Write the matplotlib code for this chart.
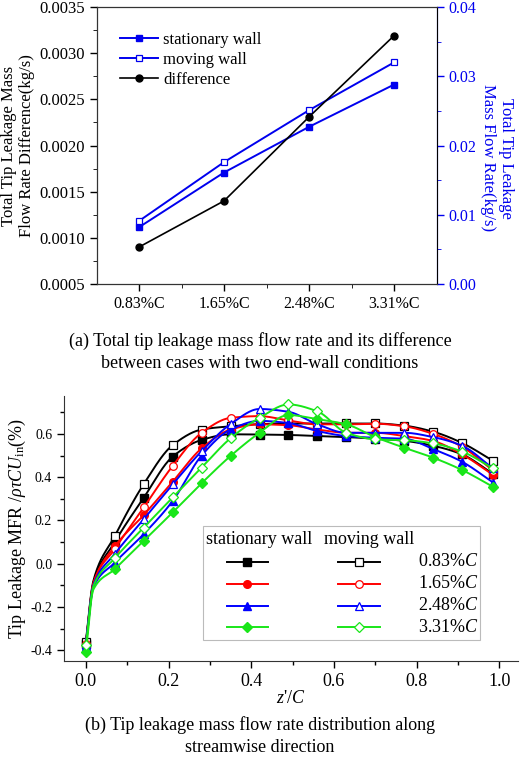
import numpy as np
import matplotlib
matplotlib.use("Agg")
import matplotlib.pyplot as plt
from matplotlib.lines import Line2D
from matplotlib.patches import Rectangle
from matplotlib.ticker import MultipleLocator, FixedLocator

plt.rcParams['font.family'] = ['Liberation Serif', 'DejaVu Serif']
plt.rcParams['mathtext.fontset'] = 'custom'
plt.rcParams['mathtext.rm'] = 'Liberation Serif'
plt.rcParams['mathtext.it'] = 'Liberation Serif:italic'
plt.rcParams['axes.unicode_minus'] = False

# ---------------- data: panel (a) ----------------
gap_labels = ['0.83%C', '1.65%C', '2.48%C', '3.31%C']
stationary_total = [0.0082, 0.0161, 0.0227, 0.0288]
moving_total = [0.0091, 0.0176, 0.0251, 0.0320]
difference = [0.00090, 0.00140, 0.00231, 0.00319]

# ---------------- data: panel (b) ----------------
z = [0.0, 0.018, 0.07, 0.14, 0.21, 0.28, 0.35, 0.42, 0.49, 0.56, 0.63, 0.70, 0.77, 0.84, 0.91, 0.985]
stat_083 = [-0.37, -0.09, 0.100, 0.305, 0.495, 0.572, 0.598, 0.597, 0.595, 0.590, 0.585, 0.578, 0.568, 0.545, 0.505, 0.415]
mov_083 = [-0.36, -0.08, 0.128, 0.368, 0.548, 0.620, 0.635, 0.645, 0.648, 0.648, 0.648, 0.648, 0.638, 0.610, 0.558, 0.475]
stat_165 = [-0.38, -0.095, 0.080, 0.225, 0.379, 0.533, 0.620, 0.644, 0.640, 0.620, 0.605, 0.605, 0.590, 0.567, 0.505, 0.410]
mov_165 = [-0.37, -0.09, 0.068, 0.260, 0.452, 0.605, 0.674, 0.682, 0.662, 0.644, 0.644, 0.647, 0.635, 0.600, 0.540, 0.430]
stat_248 = [-0.38, -0.11, 0.005, 0.137, 0.290, 0.500, 0.620, 0.660, 0.650, 0.613, 0.590, 0.582, 0.578, 0.530, 0.471, 0.375]
mov_248 = [-0.37, -0.10, 0.045, 0.206, 0.367, 0.520, 0.645, 0.715, 0.702, 0.644, 0.605, 0.605, 0.605, 0.585, 0.545, 0.440]
stat_331 = [-0.41, -0.12, -0.025, 0.106, 0.237, 0.372, 0.498, 0.605, 0.687, 0.668, 0.644, 0.585, 0.536, 0.490, 0.433, 0.355]
mov_331 = [-0.378, -0.105, 0.025, 0.167, 0.306, 0.444, 0.580, 0.674, 0.736, 0.704, 0.605, 0.575, 0.571, 0.556, 0.518, 0.440]
case_labels = ['0.83%$C$', '1.65%$C$', '2.48%$C$', '3.31%$C$']
case_colors = ['black', '#ff0000', '#0000ff', '#19e619']
case_markers = ['s', 'o', '^', 'D']


def pchip(x, y, xn):
    x = np.asarray(x, float); y = np.asarray(y, float)
    h = np.diff(x); d = np.diff(y) / h
    n = len(x)
    m = np.zeros(n)
    for k in range(1, n - 1):
        if d[k - 1] * d[k] <= 0:
            m[k] = 0.0
        else:
            w1 = 2 * h[k] + h[k - 1]
            w2 = h[k] + 2 * h[k - 1]
            m[k] = (w1 + w2) / (w1 / d[k - 1] + w2 / d[k])
    m[0] = d[0]
    m[-1] = d[-1]
    idx = np.clip(np.searchsorted(x, xn) - 1, 0, n - 2)
    t = (xn - x[idx]) / h[idx]
    h00 = 2 * t**3 - 3 * t**2 + 1
    h10 = t**3 - 2 * t**2 + t
    h01 = -2 * t**3 + 3 * t**2
    h11 = t**3 - t**2
    return h00 * y[idx] + h10 * h[idx] * m[idx] + h01 * y[idx + 1] + h11 * h[idx] * m[idx + 1]


fig = plt.figure(figsize=(5.2, 7.62), dpi=100)

# ================= panel (a) =================
ax1 = fig.add_axes([0.1856, 0.6273, 0.654, 0.3635])
xpos = np.arange(1, len(gap_labels) + 1)
ax1r = ax1.twinx()
ax1.set_zorder(ax1r.get_zorder() + 1)
ax1.patch.set_visible(False)
blue = '#0000ee'
h1, = ax1r.plot(xpos, stationary_total, color=blue, marker='s', ms=4.5, lw=1.4, label='stationary wall')
h2, = ax1r.plot(xpos, moving_total, color=blue, marker='s', mfc='white', mec=blue, ms=4.5, mew=0.9, lw=1.4, label='moving wall')
h3, = ax1.plot(xpos, difference, color='black', marker='o', ms=5, lw=1.2, label='difference')

ax1.set_xlim(0.5, 4.5)
ax1.set_ylim(0.0005, 0.0035)
ax1.yaxis.set_major_locator(MultipleLocator(0.0005))
ax1.yaxis.set_minor_locator(MultipleLocator(0.00025))
ax1.set_yticklabels([f'{v:.4f}' for v in ax1.get_yticks()])
ax1.xaxis.set_major_locator(FixedLocator(xpos))
ax1.xaxis.set_minor_locator(FixedLocator(xpos[:-1] + 0.5))
ax1.set_xticklabels(gap_labels, fontsize=11.5)
ax1.tick_params(axis='y', labelsize=12, direction='out', length=5, width=1)
ax1.tick_params(axis='y', which='minor', length=3, direction='out')
ax1.tick_params(axis='x', direction='out', length=5, width=1)
ax1.tick_params(axis='x', which='minor', length=3, direction='out')
ax1.set_ylabel('Total Tip Leakage Mass\nFlow Rate Difference(kg/s)', fontsize=12, labelpad=3, linespacing=1.15)

ax1r.set_ylim(0.0, 0.04)
ax1r.yaxis.set_major_locator(MultipleLocator(0.01))
ax1r.yaxis.set_minor_locator(MultipleLocator(0.005))
ax1r.set_yticklabels([f'{v:.2f}' for v in ax1r.get_yticks()])
ax1r.tick_params(axis='y', colors=blue, labelsize=11.5, direction='out', length=5, width=1)
ax1r.tick_params(axis='y', which='minor', colors=blue, length=3, direction='out')
ax1r.spines['right'].set_color(blue)
fig.text(497 / 520, 1 - 158 / 762, 'Total Tip Leakage\nMass Flow Rate(kg/s)', color=blue, fontsize=12,
         rotation=270, ha='center', va='center', linespacing=1.1, multialignment='center')
for sp in ['left', 'top', 'bottom']:
    ax1.spines[sp].set_color('#333333')

ax1.legend(handles=[h1, h2, h3], loc='upper left', bbox_to_anchor=(0.045, 0.94), frameon=False,
           fontsize=12, handlelength=2.3, handletextpad=0.3, labelspacing=0.25, borderpad=0)

fig.text(0.5, 1 - 341 / 762, '(a) Total tip leakage mass flow rate and its difference',
         ha='center', va='center', fontsize=13)
fig.text(0.5, 1 - 364 / 762, 'between cases with two end-wall conditions',
         ha='center', va='center', fontsize=13)

# ================= panel (b) =================
ax2 = fig.add_axes([0.123, 0.1325, 0.873, 0.3478])
zn = np.linspace(z[0], z[-1], 400)
stat_series = [stat_083, stat_165, stat_248, stat_331]
mov_series = [mov_083, mov_165, mov_248, mov_331]
mark_idx = [0] + list(range(2, len(z)))
for col, mk, ys, ym in zip(case_colors, case_markers, stat_series, mov_series):
    msz = 5.5 if mk != 'D' else 5
    ax2.plot(zn, pchip(z, ys, zn), color=col, lw=1.4)
    ax2.plot(np.array(z)[mark_idx], np.array(ys)[mark_idx], ls='none', marker=mk, color=col, ms=msz)
    ax2.plot(zn, pchip(z, ym, zn), color=col, lw=1.4)
    ax2.plot(np.array(z)[mark_idx], np.array(ym)[mark_idx], ls='none', marker=mk, color=col,
             mfc='white', mec=col, ms=msz, mew=0.9)

ax2.set_xlim(-0.053, 1.045)
ax2.set_ylim(-0.45, 0.775)
ax2.xaxis.set_major_locator(MultipleLocator(0.2))
ax2.xaxis.set_minor_locator(MultipleLocator(0.1))
ax2.yaxis.set_major_locator(MultipleLocator(0.2))
ax2.yaxis.set_minor_locator(MultipleLocator(0.1))
ax2.set_xticklabels([f'{v:.1f}' for v in ax2.get_xticks()])
ax2.set_yticklabels([f'{v:.1f}' for v in ax2.get_yticks()])
ax2.tick_params(axis='x', labelsize=13, direction='out', length=5, width=1)
ax2.tick_params(axis='y', labelsize=10, direction='out', length=5, width=1)
ax2.tick_params(which='minor', direction='out', length=3, width=1)
ax2.spines['top'].set_visible(False)
ax2.spines['right'].set_visible(False)
ax2.spines['left'].set_color('#333333')
ax2.spines['bottom'].set_color('#333333')
ax2.set_xlabel("$z$'/$C$", fontsize=13, labelpad=0)
ax2.set_ylabel(r'Tip Leakage MFR /$\rho\tau CU_{\rm in}$(%)', fontsize=13, labelpad=2)

# manual legend (3 columns: stationary, moving, label)
T = ax2.transAxes
ax2.add_patch(Rectangle((0.306, 0.079), 0.610, 0.430, transform=T, fill=True,
                        facecolor='white', edgecolor='#bbbbbb', lw=0.8, zorder=5))
ax2.text(0.313, 0.457, 'stationary wall', transform=T, fontsize=13, va='center', ha='left', zorder=6)
ax2.text(0.572, 0.457, 'moving wall', transform=T, fontsize=13, va='center', ha='left', zorder=6)
row_y = [0.374, 0.291, 0.209, 0.128]
for ry, col, mk, lab in zip(row_y, case_colors, case_markers, case_labels):
    msz = 5.5 if mk != 'D' else 5
    ax2.add_line(Line2D([0.359, 0.449], [ry, ry], transform=T, color=col, lw=1.4, zorder=6))
    ax2.add_line(Line2D([0.404], [ry], transform=T, color=col, marker=mk, ms=msz, zorder=7))
    ax2.add_line(Line2D([0.604, 0.696], [ry, ry], transform=T, color=col, lw=1.4, zorder=6))
    ax2.add_line(Line2D([0.650], [ry], transform=T, color=col, marker=mk, mfc='white', mec=col,
                        ms=msz, mew=0.9, zorder=7))
    ax2.text(0.780, ry, lab, transform=T, fontsize=13, va='center', ha='left', zorder=6)

fig.text(0.5, 1 - 725 / 762, '(b) Tip leakage mass flow rate distribution along',
         ha='center', va='center', fontsize=13)
fig.text(0.5, 1 - 748 / 762, 'streamwise direction', ha='center', va='center', fontsize=13)

fig.savefig('out.png', dpi=100)
